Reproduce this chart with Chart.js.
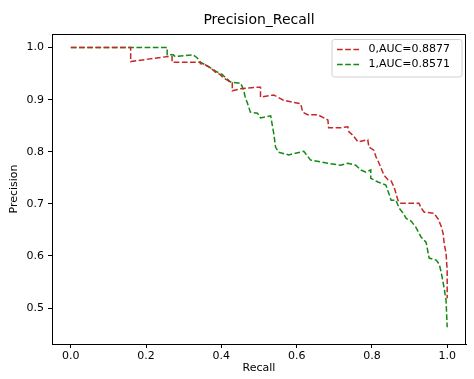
<!DOCTYPE html>
<html><head><meta charset="utf-8">
<script src="https://cdn.jsdelivr.net/npm/chart.js@4.4.0/dist/chart.umd.min.js"></script>
<style>html,body{margin:0;padding:0;background:#fff;}</style>
</head><body>
<canvas id="c" width="474" height="379"></canvas>
<script>
const chartTitle = 'Precision_Recall';
const xLabel = 'Recall';
const yLabel = 'Precision';
const seriesLabels = ['0,AUC=0.8877', '1,AUC=0.8571'];
const seriesColors = ['#c62828', '#138a13'];

const recall0 = [0,0.159,0.159,0.259,0.269,0.269,0.344,0.344,0.357,0.371,0.384,0.397,0.405,0.424,0.429,0.429,0.451,0.499,0.504,0.504,0.539,0.565,0.597,0.611,0.616,0.629,0.656,0.683,0.685,0.717,0.736,0.739,0.749,0.763,0.789,0.792,0.805,0.811,0.819,0.824,0.832,0.843,0.851,0.859,0.864,0.869,0.877,0.925,0.931,0.939,0.965,0.976,0.984,0.989,0.992,0.997,1.0,1.0];
const precision0 = [1.0,1.0,0.973,0.983,0.983,0.972,0.972,0.969,0.967,0.961,0.953,0.948,0.942,0.934,0.932,0.917,0.921,0.924,0.924,0.905,0.909,0.899,0.894,0.892,0.876,0.871,0.871,0.861,0.846,0.846,0.848,0.838,0.832,0.819,0.823,0.809,0.803,0.790,0.778,0.769,0.755,0.746,0.744,0.732,0.720,0.707,0.701,0.701,0.692,0.684,0.682,0.671,0.657,0.644,0.624,0.605,0.572,0.519];

const recall1 = [0,0.256,0.256,0.272,0.277,0.325,0.336,0.344,0.357,0.371,0.389,0.403,0.411,0.424,0.443,0.451,0.459,0.464,0.469,0.477,0.496,0.504,0.531,0.536,0.539,0.544,0.552,0.579,0.597,0.619,0.637,0.683,0.717,0.736,0.757,0.771,0.784,0.797,0.797,0.816,0.837,0.845,0.851,0.864,0.872,0.883,0.891,0.904,0.917,0.925,0.931,0.944,0.952,0.971,0.979,0.984,0.992,0.997,1.0];
const precision1 = [1.0,1.0,0.986,0.986,0.983,0.986,0.980,0.972,0.967,0.961,0.953,0.948,0.942,0.934,0.932,0.932,0.919,0.903,0.894,0.876,0.874,0.865,0.869,0.848,0.836,0.809,0.799,0.794,0.797,0.801,0.784,0.778,0.774,0.778,0.774,0.765,0.761,0.765,0.749,0.742,0.736,0.720,0.707,0.707,0.692,0.682,0.672,0.667,0.655,0.644,0.636,0.626,0.596,0.592,0.584,0.569,0.538,0.515,0.463];

const xTicks = [0.0, 0.2, 0.4, 0.6, 0.8, 1.0];
const yTicks = [0.5, 0.6, 0.7, 0.8, 0.9, 1.0];

const FONT = 'DejaVu Sans';
const DASH = [5.7, 2.5];

function toPoints(xs, ys) { return xs.map((x, i) => ({ x: x, y: ys[i] })); }

const spinesPlugin = {
  id: 'spines',
  afterDatasetsDraw(chart) {
    const a = chart.chartArea, ctx = chart.ctx;
    const L = Math.round(a.left) + 0.5, T = Math.round(a.top) + 0.5;
    const R = Math.round(a.right) - 0.5, B = Math.round(a.bottom) + 0.5;
    ctx.save();
    ctx.strokeStyle = '#000';
    ctx.lineWidth = 1;
    ctx.beginPath();
    ctx.moveTo(L, T); ctx.lineTo(R, T); ctx.lineTo(R, B);
    ctx.stroke();
    ctx.restore();
  }
};

const legendPlugin = {
  id: 'mplLegend',
  afterDraw(chart) {
    const ctx = chart.ctx;
    const bx = 332, by = 39.5, bw = 130, bh = 37.5, r = 2.5;
    ctx.save();
    ctx.beginPath();
    ctx.moveTo(bx + r, by);
    ctx.lineTo(bx + bw - r, by); ctx.arcTo(bx + bw, by, bx + bw, by + r, r);
    ctx.lineTo(bx + bw, by + bh - r); ctx.arcTo(bx + bw, by + bh, bx + bw - r, by + bh, r);
    ctx.lineTo(bx + r, by + bh); ctx.arcTo(bx, by + bh, bx, by + bh - r, r);
    ctx.lineTo(bx, by + r); ctx.arcTo(bx, by, bx + r, by, r);
    ctx.closePath();
    ctx.fillStyle = 'rgba(255,255,255,0.8)';
    ctx.fill();
    ctx.strokeStyle = '#d0d0d0';
    ctx.lineWidth = 1;
    ctx.stroke();
    chart.data.datasets.forEach((ds, i) => {
      const y = 49.5 + i * 15;
      ctx.beginPath();
      ctx.setLineDash(DASH);
      ctx.strokeStyle = ds.borderColor;
      ctx.lineWidth = 1.5;
      ctx.moveTo(337, y); ctx.lineTo(360, y);
      ctx.stroke();
      ctx.setLineDash([]);
      ctx.fillStyle = '#000';
      ctx.font = '11px "' + FONT + '"';
      ctx.textBaseline = 'middle';
      ctx.textAlign = 'left';
      ctx.fillText(ds.label, 368.5, y);
    });
    ctx.restore();
  }
};

new Chart(document.getElementById('c'), {
  type: 'line',
  data: {
    datasets: [
      { label: seriesLabels[0], data: toPoints(recall0, precision0), borderColor: seriesColors[0], backgroundColor: 'transparent', borderWidth: 1.5, borderDash: DASH, pointRadius: 0, fill: false, tension: 0 },
      { label: seriesLabels[1], data: toPoints(recall1, precision1), borderColor: seriesColors[1], backgroundColor: 'transparent', borderWidth: 1.5, borderDash: DASH, pointRadius: 0, fill: false, tension: 0 }
    ]
  },
  options: {
    responsive: false,
    animation: false,
    devicePixelRatio: 1,
    layout: { padding: { left: 0, right: 8, top: 0, bottom: 0 } },
    plugins: {
      legend: { display: false },
      tooltip: { enabled: false },
      title: { display: true, fullSize: false, text: chartTitle, color: '#000', font: { family: FONT, size: 14, weight: 'normal' }, padding: { top: 11.6, bottom: 5.6 } }
    },
    scales: {
      x: {
        type: 'linear', min: -0.05, max: 1.05,
        afterBuildTicks: s => { s.ticks = xTicks.map(v => ({ value: v })); },
        afterFit: s => { s.height = 35; },
        ticks: { callback: v => Number(v).toFixed(1), color: '#000', font: { family: FONT, size: 11 }, padding: 2, maxRotation: 0, autoSkip: false },
        grid: { drawOnChartArea: false, drawTicks: true, tickLength: 4, color: '#000', lineWidth: 1 },
        border: { display: true, color: '#000', width: 1 },
        title: { display: true, text: xLabel, color: '#000', font: { family: FONT, size: 11 }, padding: { top: 0, bottom: 4.4 } }
      },
      y: {
        type: 'linear', min: 0.431, max: 1.026,
        afterBuildTicks: s => { s.ticks = yTicks.map(v => ({ value: v })); },
        afterFit: s => { s.width = 52; },
        ticks: { callback: v => Number(v).toFixed(1), color: '#000', font: { family: FONT, size: 11 }, padding: 4, autoSkip: false },
        grid: { drawOnChartArea: false, drawTicks: true, tickLength: 4, color: '#000', lineWidth: 1 },
        border: { display: true, color: '#000', width: 1 },
        title: { display: true, text: yLabel, color: '#000', font: { family: FONT, size: 11 }, padding: { top: 7.5, bottom: 0 } }
      }
    }
  },
  plugins: [spinesPlugin, legendPlugin]
});
</script>
</body></html>
